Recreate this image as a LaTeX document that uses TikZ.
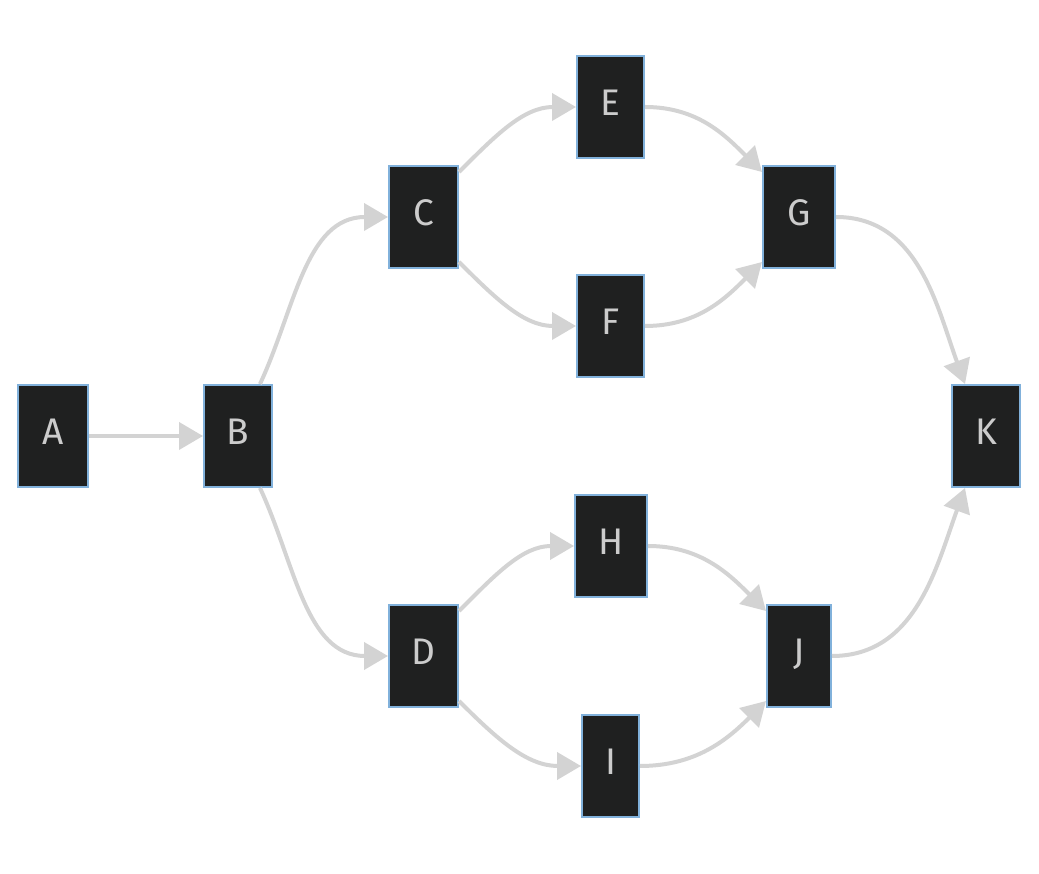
\documentclass[tikz,border=0pt]{standalone}
\usepackage{fontspec}
\setmainfont{Fira Sans}
\usetikzlibrary{arrows.meta}
\definecolor{boxfill}{HTML}{1F2020}
\definecolor{boxline}{HTML}{81B1DB}
\definecolor{edgecol}{HTML}{D3D3D3}
\definecolor{txtcol}{HTML}{CCCCCC}
\tikzset{
  box/.style={draw=boxline, fill=boxfill, line width=2pt, minimum height=102pt,
    inner sep=0pt, text=txtcol, font=\fontsize{37}{40}\selectfont,
    text height=27pt, text depth=10pt},
  edge/.style={draw=edgecol, line width=4pt, -{Triangle[length=24pt,width=27pt]}}
}
\begin{document}
\begin{tikzpicture}[x=1pt,y=1pt]
\useasboundingbox (0,0) rectangle (1039,873);
\node[box, minimum width=70pt] (A) at (53,437) {A};
\node[box, minimum width=68pt] (B) at (238,437) {B};
\node[box, minimum width=69pt] (C) at (423.5,656) {C};
\node[box, minimum width=67pt] (E) at (610.5,766) {E};
\node[box, minimum width=67pt] (F) at (610.5,547) {F};
\node[box, minimum width=72pt] (G) at (799,656) {G};
\node[box, minimum width=68pt] (K) at (986,437) {K};
\node[box, minimum width=69pt] (D) at (423.5,217) {D};
\node[box, minimum width=72pt] (H) at (611,327) {H};
\node[box, minimum width=57pt] (I) at (610.5,107) {I};
\node[box, minimum width=64pt] (J) at (799,217) {J};

\draw[edge] (A.east) -- (B.west);
\draw[edge] ([xshift=22pt]B.north) to[out=65,in=180] (C.west);
\draw[edge] ([xshift=22pt]B.south) to[out=-65,in=180] (D.west);
\draw[edge] ([yshift=-7pt]C.north east) to[out=45,in=180] (E.west);
\draw[edge] ([yshift=7pt]C.south east) to[out=-45,in=180] (F.west);
\draw[edge] (E.east) to[out=0,in=135] ([yshift=-7pt]G.north west);
\draw[edge] (F.east) to[out=0,in=225] ([yshift=7pt]G.south west);
\draw[edge] (G.east) to[out=0,in=110] ([xshift=-21pt]K.north);
\draw[edge] ([yshift=-7pt]D.north east) to[out=45,in=180] (H.west);
\draw[edge] ([yshift=7pt]D.south east) to[out=-45,in=180] (I.west);
\draw[edge] (H.east) to[out=0,in=135] ([yshift=-7pt]J.north west);
\draw[edge] (I.east) to[out=0,in=225] ([yshift=7pt]J.south west);
\draw[edge] (J.east) to[out=0,in=250] ([xshift=-21pt]K.south);
\end{tikzpicture}
\end{document}
